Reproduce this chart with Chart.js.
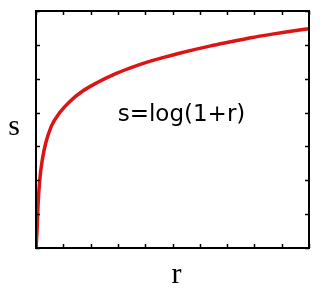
<!DOCTYPE html>
<html>
<head>
<meta charset="utf-8">
<script src="https://cdn.jsdelivr.net/npm/chart.js@4/dist/chart.umd.min.js"></script>
<style>
  html, body { margin: 0; padding: 0; background: #fff; }
  #wrap { width: 324px; height: 291px; }
</style>
</head>
<body>
<div id="wrap"><canvas id="chart" width="324" height="291"></canvas></div>
<script>
// values
const rValues = [0, 0.037, 0.074, 0.136, 0.23, 0.357, 0.563, 0.871, 1.24, 1.70, 2.23, 2.84, 3.46, 4.07, 4.68, 5.29, 6.40, 7.13, 7.87, 8.60, 9.34, 10.0];
const sValues = [0, 0.5, 1.25, 2.0, 2.6, 3.1, 3.6, 4.0, 4.33, 4.63, 4.88, 5.12, 5.32, 5.49, 5.63, 5.76, 5.97, 6.09, 6.21, 6.31, 6.40, 6.48];
const xTicks = [0, 1, 2, 3, 4, 5, 6, 7, 8, 9, 10];
const yTicks = [0, 1, 2, 3, 4, 5, 6, 7];
const xTitle = 'r';
const yTitle = 's';
const formula = 's=log(1+r)';

const points = rValues.map((r, i) => ({ x: r, y: sValues[i] }));

// frame, inward ticks and the texts
const framePlugin = {
  id: 'frame',
  afterDraw(chart) {
    const { ctx, chartArea: a, scales: { x, y } } = chart;
    ctx.save();
    ctx.strokeStyle = '#000';
    ctx.lineWidth = 1.5;
    ctx.beginPath();
    xTicks.forEach(v => {
      const px = Math.round(x.getPixelForValue(v)) + 0.5;
      ctx.moveTo(px, a.bottom); ctx.lineTo(px, a.bottom - 4);
      ctx.moveTo(px, a.top); ctx.lineTo(px, a.top + 4);
    });
    yTicks.forEach(v => {
      const py = Math.round(y.getPixelForValue(v)) + 0.5;
      ctx.moveTo(a.left, py); ctx.lineTo(a.left + 4, py);
      ctx.moveTo(a.right, py); ctx.lineTo(a.right - 4, py);
    });
    ctx.stroke();
    ctx.lineWidth = 2;
    ctx.strokeRect(a.left, a.top, a.right - a.left, a.bottom - a.top);

    ctx.fillStyle = '#000';
    ctx.textAlign = 'center';
    ctx.textBaseline = 'alphabetic';
    ctx.font = '23px "DejaVu Sans"';
    ctx.fillText(formula, x.getPixelForValue(5.33), y.getPixelForValue(3.75));

    ctx.font = '30px "Liberation Serif"';
    ctx.fillText(xTitle, (a.left + a.right) / 2 + 4, 283);
    ctx.fillText(yTitle, 14, 135);
    ctx.restore();
  }
};

new Chart(document.getElementById('chart'), {
  type: 'scatter',
  data: {
    datasets: [{
      data: points,
      showLine: true,
      borderColor: '#dd1414',
      borderWidth: 3.5,
      pointRadius: 0,
      cubicInterpolationMode: 'monotone',
      fill: false
    }]
  },
  options: {
    responsive: false,
    animation: false,
    layout: { padding: { left: 36, right: 15, top: 11, bottom: 43 } },
    plugins: { legend: { display: false }, tooltip: { enabled: false } },
    scales: {
      x: { type: 'linear', min: 0, max: 10, display: false },
      y: { type: 'linear', min: 0, max: 7, display: false }
    }
  },
  plugins: [framePlugin]
});
</script>
</body>
</html>
